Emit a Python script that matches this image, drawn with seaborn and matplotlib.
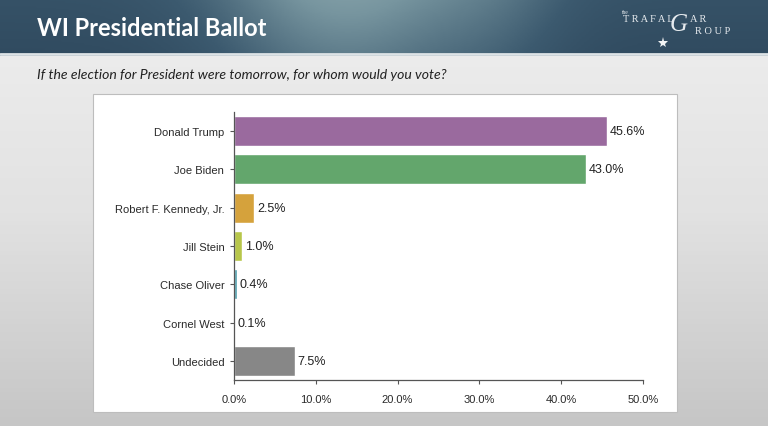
import matplotlib
matplotlib.use('Agg')
import numpy as np
import pandas as pd
from matplotlib import pyplot as plt
from matplotlib.colors import LinearSegmentedColormap
from matplotlib.patches import Rectangle
from matplotlib.ticker import FuncFormatter
import seaborn as sns

# данные опроса (WI)
candidates = ['Donald Trump', 'Joe Biden', 'Robert F. Kennedy, Jr.', 'Jill Stein',
              'Chase Oliver', 'Cornel West', 'Undecided']
shares = [45.6, 43.0, 2.5, 1.0, 0.4, 0.1, 7.5]
bar_colors = ['#9a6a9e', '#63a66c', '#d5a23c', '#b7c64a', '#4f9fae', '#c0504d', '#878787']
x_ticks = [0, 10, 20, 30, 40, 50]

df = pd.DataFrame({'candidate': candidates, 'share': shares})

sns.set_style('white')
plt.rcParams['font.family'] = ['Liberation Sans', 'DejaVu Sans']

fig = plt.figure(figsize=(7.68, 4.27), dpi=100)

# фон слайда
bg = fig.add_axes([0, 0, 1, 1], zorder=-10)
bg.set_axis_off()
gray_cmap = LinearSegmentedColormap.from_list('bg', ['#c6c6c6', '#e2e2e2', '#efefef'])
bg.imshow(np.linspace(0, 1, 100).reshape(-1, 1), cmap=gray_cmap, aspect='auto',
          extent=[0, 1, 0, 1], origin='lower')
bg.set_xlim(0, 1)
bg.set_ylim(0, 1)

# шапка
hdr_h = 57 / 427
hdr = fig.add_axes([0, 1 - hdr_h, 1, hdr_h], zorder=-5)
hdr.set_axis_off()
hx = np.linspace(0, 1, 300)
hy = np.linspace(0, 1, 40)
prof_x = 0.22 + 0.4 * np.exp(-((hx - 0.45) / 0.17) ** 2) + 0.12 * np.exp(-((hx - 0.65) / 0.1) ** 2)
prof_y = 0.85 + 0.3 * (1 - hy)
hdr_cmap = LinearSegmentedColormap.from_list('hdr', ['#22384d', '#3c5a6f', '#77959f', '#a3bbbd'])
hdr.imshow(np.clip(np.outer(prof_y, prof_x), 0, 1), cmap=hdr_cmap, aspect='auto',
           extent=[0, 1, 0, 1], origin='upper', vmin=0, vmax=1)
hdr.set_xlim(0, 1)
hdr.set_ylim(0, 1)
hdr.axhline(0.03, color='#dde3e6', lw=2)
hdr.plot([663 / 768], [0.22], marker='*', color='#f2f4f5', ms=8, mew=0)

fig.text(37 / 768, 1 - 29 / 427, 'WI Presidential Ballot', color='white', fontsize=17,
         fontweight='bold', family=['Lato', 'DejaVu Sans'], va='center', ha='left')
fig.text(37 / 768, 1 - 75 / 427,
         'If the election for President were tomorrow, for whom would you vote?',
         color='#222222', fontsize=10.05, fontstyle='italic', family=['Lato', 'DejaVu Sans'],
         va='center', ha='left')

# логотип
logo = dict(color='#e6eaee', family=['Liberation Serif'], va='center')
fig.text(622 / 768, 1 - 12 / 427, 'the', fontsize=4, ha='left', **logo)
fig.text(623 / 768, 1 - 20 / 427, 'T R A F A L', fontsize=7.5, ha='left', **logo)
fig.text(679 / 768, 1 - 25 / 427, 'G', fontsize=18, fontstyle='italic', ha='center', **logo)
fig.text(690 / 768, 1 - 19 / 427, 'A R', fontsize=7.5, ha='left', **logo)
fig.text(695 / 768, 1 - 32 / 427, 'R O U P', fontsize=7.5, ha='left', **logo)

# белая панель
fig.patches.append(Rectangle((93 / 768, 1 - 413 / 427), 584 / 768, 318 / 427,
                             transform=fig.transFigure, facecolor='white',
                             edgecolor='#bdbdbd', lw=0.8, zorder=-1))

ax = fig.add_axes([234 / 768, 1 - 381 / 427, 409 / 768, 268 / 427])
sns.barplot(data=df, x='share', y='candidate', hue='candidate', palette=bar_colors,
            legend=False, width=0.78, saturation=1, ax=ax)

for i, v in enumerate(shares):
    ax.text(v + 0.3, i, f'{v:.1f}%', va='center', ha='left', fontsize=9, color='#222222')

ax.set_xlim(0, 50)
ax.set_xticks(x_ticks)
ax.xaxis.set_major_formatter(FuncFormatter(lambda v, p: f'{v:.1f}%'))
ax.set_xlabel('')
ax.set_ylabel('')
ax.set_facecolor('none')
sns.despine(ax=ax)
for s in ['left', 'bottom']:
    ax.spines[s].set_color('#555555')
    ax.spines[s].set_linewidth(0.9)
ax.tick_params(axis='both', which='major', length=3, width=0.8, color='#555555',
               labelsize=8, labelcolor='#2a2a2a', bottom=True, left=True, pad=4)
ax.tick_params(axis='x', pad=7)

fig.savefig('out.png', dpi=100)
